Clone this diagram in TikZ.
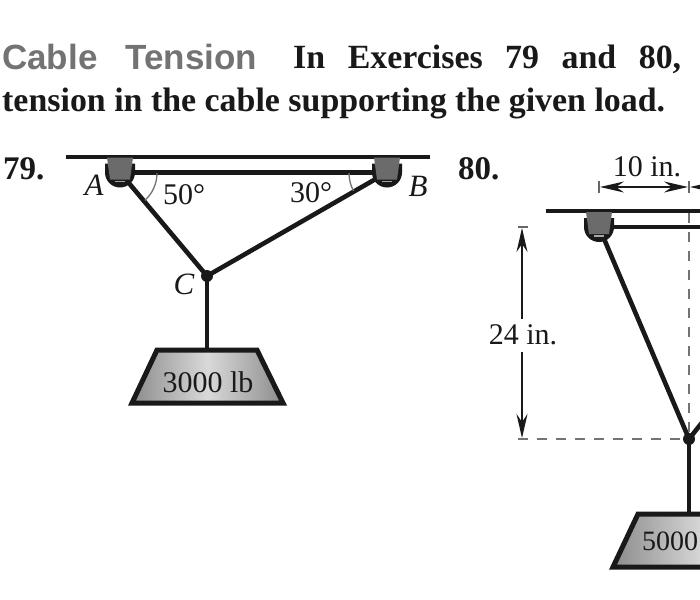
\documentclass[tikz,border=0pt]{standalone}
\usepackage{fontspec}
\setmainfont{Liberation Serif}
\newfontfamily\headsans{Liberation Sans}
\usetikzlibrary{arrows.meta}
\definecolor{inkk}{gray}{0.1}
\definecolor{headgray}{gray}{0.45}
\tikzset{
  x=1pt,y=-1pt,
  lbl/.style={font=\fontsize{30}{32}\selectfont,text=inkk,inner sep=0pt},
  ital/.style={font=\fontsize{31}{32}\selectfont\itshape,text=inkk,inner sep=0pt},
  headline/.style={font=\fontsize{33.9}{35}\selectfont\bfseries,text=inkk,inner sep=0pt,anchor=base west},
  probnum/.style={font=\fontsize{33}{35}\selectfont\bfseries,text=inkk,inner sep=0pt,anchor=base west},
  beam/.style={line width=4.6pt,draw=inkk},
  cable/.style={line width=4.6pt,draw=inkk},
  joint/.style={circle,fill=inkk,minimum size=12pt,inner sep=0pt},
  anchorpt/.style={circle,minimum size=2pt,inner sep=0pt},
  weightbox/.style={line width=5pt,draw=inkk,line join=miter,left color=black!45,right color=black!45,middle color=black!15},
  anglearc/.style={line width=1.3pt,draw=black!55},
  dimone/.style={line width=1.5pt,draw=inkk,-{Stealth[length=24pt,width=11pt,inset=8pt]}},
  dim/.style={line width=1.5pt,draw=inkk,{Stealth[length=24pt,width=11pt,inset=8pt]}-{Stealth[length=24pt,width=11pt,inset=8pt]}},
  tick/.style={line width=1.4pt,draw=black!60},
  dashline/.style={line width=2.6pt,draw=black!55,dash pattern=on 10pt off 9pt},
  mount/.pic={
    \fill[inkk] (-15,-9) -- (-15,0) arc[start angle=180,end angle=0,radius=15] -- (15,-9) -- cycle;
    \fill[black!58] (-13,-15) -- (13,-15) -- (10,7) -- (-10,7) -- cycle;
    \fill[black!35] (-5,8) rectangle (5,9.5);
  }
}
\begin{document}
\begin{tikzpicture}
\useasboundingbox (0,0) rectangle (700,599);
\clip (0,0) rectangle (700,599);
\fill[white] (0,0) rectangle (700,599);
% heading
\node[inner sep=0pt,anchor=base west,text=headgray,font=\fontsize{35}{37}\selectfont\headsans\bfseries] (h1) at (2,69.5) {\makebox[255pt][s]{Cable\hfill Tension}};
\node[headline] (h2) at (293,69) {\makebox[388pt][s]{In\hfill Exercises\hfill 79\hfill and\hfill 80,}};
\node[headline] (h3) at (2,111) {tension in the cable supporting the given load.};
\node[probnum] (n79) at (3,179) {79.};
\node[probnum] (n80) at (458,179) {80.};
% problem 79
\coordinate (L1) at (66,157);
\coordinate (R1) at (430,157);
\node[anchorpt] (A) at (120,172.5) {};
\node[anchorpt] (B) at (387,172.5) {};
\node[joint] (C) at (207,276) {};
\draw[beam] (L1) -- (R1);
\draw[cable] (A.center) -- (B.center);
\draw[cable] (A.center) -- (C.center);
\draw[cable] (B.center) -- (C.center);
\pic at (A) {mount};
\pic at (B) {mount};
\coordinate (a1) at (157,173);
\coordinate (b1) at (349,173);
\draw[anglearc] (a1) arc[start angle=0,end angle=48,radius=37];
\draw[anglearc] (b1) arc[start angle=180,end angle=152,radius=38];
\node[lbl] (t50) at (184,195) {50°};
\node[lbl] (t30) at (311,193) {30°};
\node[ital] (tA) at (94,185) {A};
\node[ital] (tB) at (418,186) {B};
\node[ital] (tC) at (184,284) {C};
\shade[weightbox] (157,350) -- (257,350) -- (283,403) -- (132,403) -- cycle;
\coordinate (W1) at (207,350);
\draw[cable] (C.center) -- (W1);
\node[lbl] (t3000) at (208,382) {3000 lb};
% problem 80
\coordinate (L2) at (546,211);
\coordinate (R2) at (700,211);
\coordinate (R3) at (700,227);
\coordinate (R4) at (704,420);
\node[anchorpt] (A2) at (599,227) {};
\node[joint] (C2) at (689,439) {};
\draw[beam] (L2) -- (R2);
\draw[cable] (A2.center) -- (R3);
\draw[cable] (A2.center) -- (C2.center);
\draw[cable] (C2.center) -- (R4);
\pic at (A2) {mount};
\coordinate (V1) at (689,213);
\coordinate (V2) at (689,432);
\draw[dashline] (V1) -- (V2);
\coordinate (H1) at (518,439);
\coordinate (H2) at (680,439);
\draw[dashline] (H1) -- (H2);
\coordinate (T1a) at (599,181);
\coordinate (T1b) at (599,193);
\coordinate (T2a) at (689,181);
\coordinate (T2b) at (689,193);
\draw[tick] (T1a) -- (T1b);
\draw[tick] (T2a) -- (T2b);
\coordinate (D1) at (600,187);
\coordinate (D2) at (688,187);
\coordinate (D3) at (690,187);
\coordinate (D4) at (712,187);
\draw[dim] (D1) -- (D2);
\draw[dimone] (D4) -- (D3);
\node[lbl] (t10) at (647,167) {10 in.};
\coordinate (V3) at (522,228);
\coordinate (V4) at (522,319);
\coordinate (V5) at (522,352);
\coordinate (V6) at (522,438);
\coordinate (T3a) at (518,227);
\coordinate (T3b) at (528,227);
\draw[tick] (T3a) -- (T3b);
\draw[dimone] (V4) -- (V3);
\draw[dimone] (V5) -- (V6);
\node[lbl] (t24) at (523,335) {24 in.};
\shade[weightbox] (638,514) -- (770,514) -- (795,567) -- (613,567) -- cycle;
\coordinate (W2) at (689,514);
\draw[cable] (C2.center) -- (W2);
\node[lbl,anchor=west,font=\fontsize{28}{30}\selectfont] (t5000) at (642,541) {5000};
\end{tikzpicture}
\end{document}
